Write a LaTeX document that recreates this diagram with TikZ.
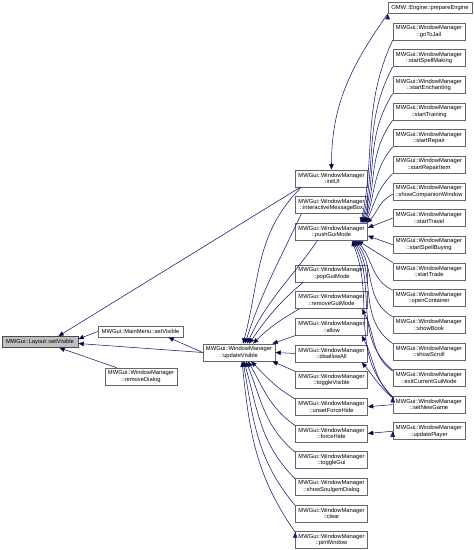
\documentclass[tikz,border=0pt]{standalone}
\usepackage{fontspec}
\setmainfont{Liberation Sans}
\usetikzlibrary{positioning,arrows.meta}
\definecolor{callblue}{RGB}{25,25,112}
\definecolor{rootgray}{RGB}{191,191,191}

\begin{document}
\begin{tikzpicture}[x=1pt, y=-1pt, node distance=9.05pt,
    fn/.style={draw=black!60, fill=white, line width=0.6pt, align=center,
      minimum width=72pt, minimum height=17pt, inner sep=1pt,
      font=\fontsize{5.8}{6.6}\selectfont},
    fnone/.style={fn, minimum height=11pt},
    call/.style={-{Triangle[length=5.5pt,width=4.5pt]}, draw=callblue, line width=0.55pt}]
  \useasboundingbox (0,0) rectangle (474,550);

  % left part
  \node[fnone, fill=rootgray, draw=black!70, minimum width=76pt] (layout) at (40,342) {MWGui::Layout::setVisible};
  \node[fnone, minimum width=85pt] (mainMenu) at (140.5,331.5) {MWGui::MainMenu::setVisible};
  \node[fn] (removeDialog) at (141,376.5) {MWGui::WindowManager\\::removeDialog};
  \node[fn] (updateVisible) at (239,352.5) {MWGui::WindowManager\\::updateVisible};

  % middle column
  \node[fn] (initUI) at (331.5,178.5) {MWGui::WindowManager\\::initUI};
  \node[fn] (msgBox) [below=of initUI] {MWGui::WindowManager\\::interactiveMessageBox};
  \node[fn] (pushMode) [below=of msgBox] {MWGui::WindowManager\\::pushGuiMode};
  \node[fn] (popMode) at (331.5,273.5) {MWGui::WindowManager\\::popGuiMode};
  \node[fn] (removeMode) [below=of popMode] {MWGui::WindowManager\\::removeGuiMode};
  \node[fn] (allow) [below=of removeMode] {MWGui::WindowManager\\::allow};
  \node[fn] (disallowAll) [below=of allow] {MWGui::WindowManager\\::disallowAll};
  \node[fn] (toggleVisible) [below=of disallowAll] {MWGui::WindowManager\\::toggleVisible};
  \node[fn] (unsetHide) [below=of toggleVisible] {MWGui::WindowManager\\::unsetForceHide};
  \node[fn] (forceHide) [below=of unsetHide] {MWGui::WindowManager\\::forceHide};
  \node[fn] (toggleGui) [below=of forceHide] {MWGui::WindowManager\\::toggleGui};
  \node[fn] (soulgem) [below=of toggleGui] {MWGui::WindowManager\\::showSoulgemDialog};
  \node[fn] (clear) [below=of soulgem] {MWGui::WindowManager\\::clear};
  \node[fn] (pinWindow) [below=of clear] {MWGui::WindowManager\\::pinWindow};

  % right column
  \node[fnone, minimum width=84pt] (prepEngine) at (430,8) {OMW::Engine::prepareEngine};
  \node[fn] (goToJail) at (429,31.5) {MWGui::WindowManager\\::goToJail};
  \node[fn] (spellMaking) [below=of goToJail] {MWGui::WindowManager\\::startSpellMaking};
  \node[fn] (enchanting) [below=of spellMaking] {MWGui::WindowManager\\::startEnchanting};
  \node[fn] (training) [below=of enchanting] {MWGui::WindowManager\\::startTraining};
  \node[fn] (repair) [below=of training] {MWGui::WindowManager\\::startRepair};
  \node[fn] (repairItem) [below=of repair] {MWGui::WindowManager\\::startRepairItem};
  \node[fn] (companion) [below=of repairItem] {MWGui::WindowManager\\::showCompanionWindow};
  \node[fn] (travel) [below=of companion] {MWGui::WindowManager\\::startTravel};
  \node[fn] (spellBuying) [below=of travel] {MWGui::WindowManager\\::startSpellBuying};
  \node[fn] (trade) [below=of spellBuying] {MWGui::WindowManager\\::startTrade};
  \node[fn] (container) [below=of trade] {MWGui::WindowManager\\::openContainer};
  \node[fn] (book) [below=of container] {MWGui::WindowManager\\::showBook};
  \node[fn] (scroll) [below=of book] {MWGui::WindowManager\\::showScroll};
  \node[fn] (exitMode) [below=of scroll] {MWGui::WindowManager\\::exitCurrentGuiMode};
  \node[fn] (newGame) [below=of exitMode] {MWGui::WindowManager\\::setNewGame};
  \node[fn] (updatePlayer) [below=of newGame] {MWGui::WindowManager\\::updatePlayer};

  % calls into setVisible
  \path[call]
    ([xshift=5pt]initUI.south west) edge ([xshift=-20pt]layout.north east)
    (mainMenu.west) edge ([yshift=3pt]layout.east)
    (updateVisible.west) edge ([yshift=-1.5pt]layout.east)
    ([xshift=12pt]removeDialog.north west) edge ([xshift=-19pt]layout.south east)
    (updateVisible.west) edge ([xshift=-15pt]mainMenu.south east)
    (prepEngine.south west) edge[out=-125, in=90] (initUI.north);

  % calls into updateVisible
  \path[call]
    ([xshift=6pt]initUI.south west) edge[out=-135, in=75] ([xshift=4pt]updateVisible.north)
    ([xshift=6pt]msgBox.south west) edge[out=-115, in=72] ([xshift=6pt]updateVisible.north)
    ([xshift=-14pt]pushMode.south) edge[out=-125, in=65] ([xshift=8pt]updateVisible.north)
    ([xshift=8pt]popMode.south west) edge[out=-140, in=55] ([xshift=10pt]updateVisible.north)
    ([xshift=4pt]removeMode.south west) edge[out=-150, in=45] ([xshift=14pt]updateVisible.north)
    (allow.south west) edge ([xshift=-3pt]updateVisible.north east)
    (disallowAll.west) edge (updateVisible.east)
    (toggleVisible.north west) edge ([xshift=-3pt]updateVisible.south east)
    ([yshift=-1pt]unsetHide.north west) edge[out=150, in=-45] ([xshift=12pt]updateVisible.south)
    ([yshift=-1pt]forceHide.north west) edge[out=145, in=-60] ([xshift=9pt]updateVisible.south)
    ([yshift=-1pt]toggleGui.north west) edge[out=140, in=-68] ([xshift=7pt]updateVisible.south)
    ([yshift=-1pt]soulgem.north west) edge[out=135, in=-74] ([xshift=5pt]updateVisible.south)
    ([yshift=-1pt]clear.north west) edge[out=130, in=-80] ([xshift=4pt]updateVisible.south)
    ([yshift=-1pt]pinWindow.north west) edge[out=125, in=-84] ([xshift=3pt]updateVisible.south);

  % calls into pushGuiMode
  \path[call]
    (goToJail.south west) edge[out=-115, in=78] ([xshift=-7pt]pushMode.north east)
    (spellMaking.south west) edge[out=-118, in=76] ([xshift=-6pt]pushMode.north east)
    (enchanting.south west) edge[out=-122, in=74] ([xshift=-5pt]pushMode.north east)
    (training.south west) edge[out=-126, in=72] ([xshift=-4pt]pushMode.north east)
    (repair.south west) edge[out=-130, in=70] ([xshift=-3pt]pushMode.north east)
    (repairItem.south west) edge[out=-135, in=66] ([xshift=-2pt]pushMode.north east)
    ([yshift=-3pt]companion.west) edge[out=-155, in=45] ([xshift=-1pt]pushMode.north east)
    (travel.west) edge ([yshift=4pt]pushMode.east)
    (spellBuying.west) edge ([yshift=-4pt]pushMode.east)
    (trade.north west) edge ([xshift=-10pt]pushMode.south east)
    ([yshift=-1pt]container.north west) edge[out=155, in=-45] ([xshift=-12pt]pushMode.south east)
    ([yshift=-1pt]book.north west) edge[out=150, in=-52] ([xshift=-13pt]pushMode.south east)
    ([yshift=-1pt]scroll.north west) edge[out=145, in=-58] ([xshift=-14pt]pushMode.south east)
    ([yshift=-1pt]exitMode.north west) edge[out=140, in=-63] ([xshift=-15pt]pushMode.south east)
    ([yshift=-1pt]newGame.north west) edge[out=135, in=-68] ([xshift=-16pt]pushMode.south east);

  % other calls
  \path[call]
    ([yshift=-2pt]exitMode.north west) edge[out=145, in=-60] ([xshift=-6pt]removeMode.south east)
    ([yshift=-2pt]newGame.north west) edge[out=135, in=-62] ([xshift=-6pt]allow.south east)
    ([yshift=-2pt]newGame.north west) edge[out=140, in=-50] ([xshift=-6pt]disallowAll.south east)
    (newGame.west) edge (unsetHide.east)
    (updatePlayer.west) edge (forceHide.east);
\end{tikzpicture}
\end{document}
